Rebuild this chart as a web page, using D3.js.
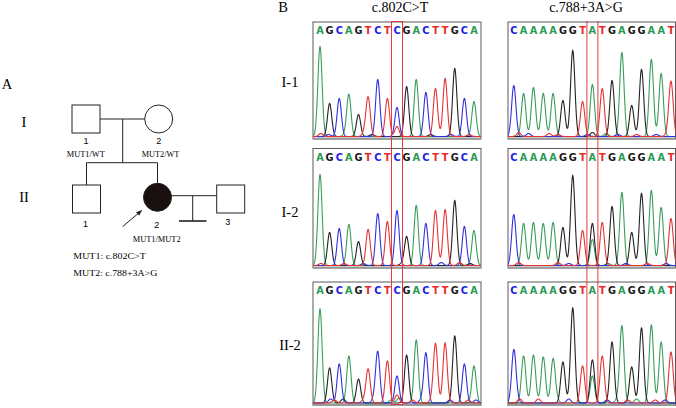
<!DOCTYPE html>
<html><head><meta charset="utf-8">
<script src="https://cdn.jsdelivr.net/npm/d3@7/dist/d3.min.js"></script>
<style>body{margin:0;background:#fff}svg{display:block}</style>
</head><body><svg id="c" width="676" height="408"></svg>
<script>
// ---------------- DATA ----------------
const mutationTitles = ["c.802C>T", "c.788+3A>G"];
const rowLabels = ["I-1", "I-2", "II-2"];
const leftSeq  = "AGCAGTCTCGACTTGCA".split("");
const rightSeq = "CAAAAGGTATGAGGAAT".split("");
// primary peak heights (signal units) per base call
const leftI1  = [90, 33, 38, 42, 22, 39, 57, 38, 29, 50, 57, 44, 48, 58, 68, 38, 35];
const leftI2  = [91, 33, 37, 41, 24, 36, 52, 44, 55, 29, 60, 42, 55, 56, 65, 39, 35];
const leftII2 = [94, 35, 39, 47, 24, 34, 51, 42, 27, 48, 63, 50, 59, 60, 67, 39, 37];
const rightI1  = [51, 43, 49, 43, 43, 36, 86, 35, 52, 48, 56, 84, 31, 67, 77, 63, 55];
const rightI2  = [51, 42, 43, 42, 43, 38, 90, 35, 42, 43, 59, 73, 33, 72, 75, 58, 47];
const rightII2 = [52, 47, 48, 46, 44, 41, 95, 37, 43, 47, 61, 77, 36, 75, 78, 61, 51];
// base giving the main peak at the variant position in each panel
const leftPrimaryAtVariant  = ["C", "C", "C"];
const rightPrimaryAtVariant = ["A", "G", "G"];
// secondary / minor peaks: [position index, base, height]
const leftI1Minor  = [[8, "T", 10], [0.1, "T", 3], [0.9, "C", 2], [2.6, "A", 2], [4.6, "T", 4], [5.4, "G", 2], [11.5, "G", 2], [13.6, "C", 2], [15.5, "T", 2]];
const leftI2Minor  = [[0.1, "T", 2], [2.5, "T", 2], [4.5, "C", 2], [8.5, "G", 2], [12.6, "C", 3], [14.5, "T", 3], [15.6, "G", 2]];
const leftII2Minor = [[8, "T", 8], [8.2, "A", 5], [1.1, "C", 4], [1.5, "T", 3], [2.4, "G", 4], [4.5, "T", 3], [5.6, "C", 4], [7.4, "A", 3], [9.6, "T", 3], [10.5, "C", 3], [11.6, "T", 3], [13.5, "C", 3], [15.4, "T", 3], [16.2, "C", 3]];
const rightI1Minor  = [[8, "G", 4], [0.5, "T", 4], [1.5, "C", 3], [3.6, "T", 3], [4.5, "T", 2], [7.5, "C", 2], [9.4, "A", 3], [10.6, "C", 2], [12.5, "T", 2], [14.5, "C", 2], [15.6, "T", 2]];
const rightI2Minor  = [[8, "A", 26], [0.5, "T", 3], [4.5, "T", 3], [5.6, "C", 2], [9.6, "A", 2], [11.4, "C", 2], [13.6, "T", 2], [15.5, "C", 2]];
const rightII2Minor = [[8, "A", 27], [0.3, "C", 4], [0.6, "T", 4], [2.5, "T", 4], [4.4, "A", 3], [5.6, "C", 4], [9.5, "C", 3], [10.5, "A", 3], [11.6, "T", 3], [12.5, "A", 4], [14.4, "T", 3], [15.4, "C", 3]];
// pedigree
const generations = ["I", "II"];
const genotypes = { "I-1": "MUT1/WT", "I-2": "MUT2/WT", "II-2": "MUT1/MUT2" };
const legendLines = ["MUT1: c.802C>T", "MUT2: c.788+3A>G"];

// ---------------- RENDER ----------------
const svg = d3.select("#c");
const baseColor = { A: "#2a9a55", C: "#2424e0", G: "#1a1a1a", T: "#e82a2a" };
const traceColor = { A: "#3a9c5c", C: "#3030e0", G: "#222222", T: "#e63232" };
const serif = "'Liberation Serif','DejaVu Serif',serif";
const sans = "'Liberation Sans',Arial,sans-serif";

const rows = [{ top: 22, bottom: 139 }, { top: 148.5, bottom: 268 }, { top: 282, bottom: 405.5 }];
const cols = [
  { x0: 313, x1: 481, seq: leftSeq, xr: [320, 474], panels: [leftI1, leftI2, leftII2], minor: [leftI1Minor, leftI2Minor, leftII2Minor], primary: leftPrimaryAtVariant },
  { x0: 508, x1: 675.5, seq: rightSeq, xr: [513.8, 671], panels: [rightI1, rightI2, rightII2], minor: [rightI1Minor, rightI2Minor, rightII2Minor], primary: rightPrimaryAtVariant }
];
const variantIdx = 8;
const sigma = 0.22;

// titles
svg.append("text").attr("x", 283).attr("y", 12).text("B").attr("font-family", serif).attr("font-size", 14.5).attr("text-anchor", "middle");
mutationTitles.forEach((t, i) => {
  svg.append("text").attr("x", i === 0 ? 400 : 586).attr("y", 12).text(t)
    .attr("font-family", serif).attr("font-size", 14).attr("text-anchor", "middle");
});
const rowLabelY = [87, 217, 350];
rowLabels.forEach((t, i) => {
  svg.append("text").attr("x", 290).attr("y", rowLabelY[i]).text(t)
    .attr("font-family", serif).attr("font-size", 14.5).attr("text-anchor", "middle");
});

const defs = svg.append("defs");
cols.forEach((col, ci) => {
  const x = d3.scaleLinear().domain([0, col.seq.length - 1]).range(col.xr);
  rows.forEach((row, ri) => {
    const baseline = row.bottom - 2.5;
    const y = d3.scaleLinear().domain([0, 100]).range([baseline, baseline - 100]);
    const id = `clip${ci}${ri}`;
    defs.append("clipPath").attr("id", id).append("rect")
      .attr("x", col.x0).attr("y", row.top).attr("width", col.x1 - col.x0).attr("height", row.bottom - row.top);
    const g = svg.append("g");
    g.append("rect").attr("x", col.x0).attr("y", row.top).attr("width", col.x1 - col.x0).attr("height", row.bottom - row.top)
      .attr("fill", "#fff").attr("stroke", "#5a5a5a").attr("stroke-width", 1);
    g.append("line").attr("x1", col.x0).attr("x2", col.x1).attr("y1", row.bottom - 0.5).attr("y2", row.bottom - 0.5)
      .attr("stroke", "#9a9a9a").attr("stroke-width", 2);
    const heights = col.panels[ri];
    const peaks = heights.map((h, i) => ({ pos: i, base: i === variantIdx ? col.primary[ri] : col.seq[i], h }));
    col.minor[ri].forEach(m => peaks.push({ pos: m[0], base: m[1], h: m[2] }));
    const samples = d3.range(-0.8, col.seq.length - 0.2, 0.02);
    const tg = g.append("g").attr("clip-path", `url(#${id})`);
    ["A", "G", "C", "T"].forEach(b => {
      const pk = peaks.filter(p => p.base === b);
      const pts = samples.map(s => [s, d3.sum(pk, p => p.h * Math.exp(-((s - p.pos) ** 2) / (2 * sigma * sigma)))]);
      tg.append("path").datum(pts)
        .attr("d", d3.line().x(d => x(d[0])).y(d => y(d[1])))
        .attr("fill", "none").attr("stroke", traceColor[b]).attr("stroke-width", 1.1);
    });
    g.selectAll("text.b").data(col.seq).join("text").attr("class", "b")
      .attr("x", (d, i) => x(i)).attr("y", row.top + 12)
      .attr("text-anchor", "middle").attr("font-family", "'DejaVu Sans',sans-serif").attr("font-size", 9.8)
      .attr("font-weight", "bold")
      .attr("fill", d => baseColor[d]).text(d => d);
  });
  const xa = x(variantIdx) - 5.5, xb = x(variantIdx) + 5.5;
  if (ci === 0) {
    svg.append("rect").attr("x", xa).attr("y", 21.5).attr("width", xb - xa).attr("height", 383)
      .attr("fill", "none").attr("stroke", "#e8383a").attr("stroke-width", 1);
  } else {
    [xa, xb].forEach(xx => svg.append("line").attr("x1", xx).attr("x2", xx).attr("y1", 21).attr("y2", 402)
      .attr("stroke", "#e8383a").attr("stroke-width", 1));
  }
});

// ---------------- PEDIGREE ----------------
const pg = svg.append("g").attr("stroke", "#222").attr("stroke-width", 1).attr("fill", "none");
svg.append("text").attr("x", 7).attr("y", 89).text("A").attr("font-family", serif).attr("font-size", 14.5).attr("text-anchor", "middle");
svg.append("text").attr("x", 24).attr("y", 127).text(generations[0]).attr("font-family", serif).attr("font-size", 14.5).attr("text-anchor", "middle");
svg.append("text").attr("x", 24).attr("y", 202).text(generations[1]).attr("font-family", serif).attr("font-size", 14.5).attr("text-anchor", "middle");
const S = 28, R = 14;
pg.append("rect").attr("x", 72).attr("y", 105).attr("width", S).attr("height", S);
pg.append("circle").attr("cx", 158.7).attr("cy", 119).attr("r", R);
pg.append("line").attr("x1", 100).attr("x2", 144.7).attr("y1", 119).attr("y2", 119);
pg.append("line").attr("x1", 122.7).attr("x2", 122.7).attr("y1", 119).attr("y2", 162.7);
pg.append("line").attr("x1", 86.5).attr("x2", 157.5).attr("y1", 162.7).attr("y2", 162.7);
pg.append("line").attr("x1", 86.5).attr("x2", 86.5).attr("y1", 162.7).attr("y2", 185);
pg.append("line").attr("x1", 157.5).attr("x2", 157.5).attr("y1", 162.7).attr("y2", 183.5);
pg.append("rect").attr("x", 72.5).attr("y", 185).attr("width", S).attr("height", S);
pg.append("circle").attr("cx", 157.5).attr("cy", 197.3).attr("r", R).attr("fill", "#1a1010");
pg.append("line").attr("x1", 171).attr("x2", 216.7).attr("y1", 195.7).attr("y2", 195.7);
pg.append("rect").attr("x", 216.7).attr("y", 185).attr("width", S).attr("height", S);
pg.append("line").attr("x1", 192.7).attr("x2", 192.7).attr("y1", 195.7).attr("y2", 221);
pg.append("line").attr("x1", 179).attr("x2", 206.5).attr("y1", 221).attr("y2", 221).attr("stroke-width", 1.6);
svg.append("defs").append("marker").attr("id", "ah").attr("viewBox", "0 0 10 10").attr("refX", 9).attr("refY", 5)
  .attr("markerWidth", 6).attr("markerHeight", 6).attr("orient", "auto")
  .append("path").attr("d", "M0,1 L10,5 L0,9 Z").attr("fill", "#222");
pg.append("line").attr("x1", 122.7).attr("y1", 226.5).attr("x2", 141.7).attr("y2", 210.5).attr("marker-end", "url(#ah)");
const num = (t, xx, yy) => svg.append("text").attr("x", xx).attr("y", yy).text(t).attr("font-family", sans).attr("font-size", 9).attr("text-anchor", "middle");
num("1", 86, 143.5); num("2", 158.7, 143.5); num("1", 85.5, 227); num("2", 156.7, 227.8); num("3", 227.7, 224.5);
const gt = (t, xx, yy, w) => svg.append("text").attr("x", xx).attr("y", yy).text(t).attr("font-family", serif).attr("font-size", 7.8)
  .attr("text-anchor", "middle").attr("textLength", w).attr("lengthAdjust", "spacingAndGlyphs");
gt(genotypes["I-1"], 85.8, 156.7, 38); gt(genotypes["I-2"], 160.5, 156.7, 37.5); gt(genotypes["II-2"], 156.7, 241.7, 48);
const legendW = [72.5, 84];
legendLines.forEach((t, i) => svg.append("text").attr("x", 73.3).attr("y", 259.3 + i * 16.4).text(t)
  .attr("font-family", serif).attr("font-size", 7.8).attr("textLength", legendW[i]).attr("lengthAdjust", "spacingAndGlyphs"));
</script></body></html>
